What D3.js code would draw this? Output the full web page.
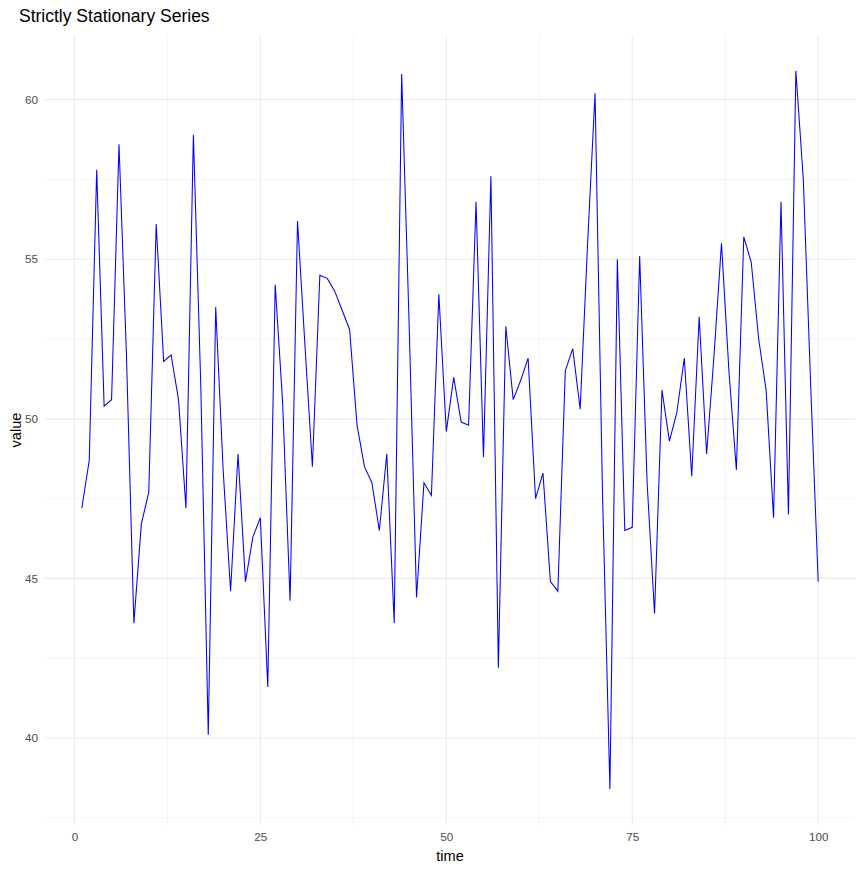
<!DOCTYPE html>
<html>
<head>
<meta charset="utf-8">
<script src="https://cdn.jsdelivr.net/npm/d3@7"></script>
<style>
  body { margin: 0; background: #fff; }
  svg text { font-family: "Liberation Sans", Arial, sans-serif; }
</style>
</head>
<body>
<svg id="chart" width="862" height="870"></svg>
<script>
// series values (time 1..100)
const values = [
  47.2, 48.7, 57.8, 50.4, 50.6, 58.6, 52.0, 43.6, 46.7, 47.7,
  56.1, 51.8, 52.0, 50.6, 47.2, 58.9, 51.0, 40.1, 53.5, 48.4,
  44.6, 48.9, 44.9, 46.3, 46.9, 41.6, 54.2, 50.5, 44.3, 56.2,
  52.3, 48.5, 54.5, 54.4, 54.0, 53.4, 52.8, 49.8, 48.5, 48.0,
  46.5, 48.9, 43.6, 60.8, 53.0, 44.4, 48.0, 47.6, 53.9, 49.6,
  51.3, 49.9, 49.8, 56.8, 48.8, 57.6, 42.2, 52.9, 50.6, 51.2,
  51.9, 47.5, 48.3, 44.9, 44.6, 51.5, 52.2, 50.3, 55.5, 60.2,
  47.7, 38.4, 55.0, 46.5, 46.6, 55.1, 48.0, 43.9, 50.9, 49.3,
  50.2, 51.9, 48.2, 53.2, 48.9, 52.0, 55.5, 51.5, 48.4, 55.7,
  54.9, 52.5, 50.9, 46.9, 56.8, 47.0, 60.9, 57.5, 51.0, 44.9
];
const times = values.map((v, i) => i + 1);

const xTicks = [0, 25, 50, 75, 100];
const xMinor = [12.5, 37.5, 62.5, 87.5];
const yTicks = [40, 45, 50, 55, 60];
const yMinor = [37.5, 42.5, 47.5, 52.5, 57.5];

const titleText = "Strictly Stationary Series";
const xLabel = "time";
const yLabel = "value";

const svg = d3.select("#chart");
const margin = { top: 35, right: 7, bottom: 45, left: 45 };
const width = 862, height = 870;

// ggplot style 5% expansion
function expand(ext) {
  const pad = (ext[1] - ext[0]) * 0.05;
  return [ext[0] - pad, ext[1] + pad];
}

const x = d3.scaleLinear()
  .domain(expand(d3.extent(times)))
  .range([margin.left, width - margin.right]);
const y = d3.scaleLinear()
  .domain(expand(d3.extent(values)))
  .range([height - margin.bottom, margin.top]);

const grid = svg.append("g");
const [x0, x1] = x.range();
const [y0, y1] = y.range();

// minor grid
grid.selectAll(".vminor").data(xMinor).enter().append("line")
  .attr("x1", d => x(d)).attr("x2", d => x(d))
  .attr("y1", y0).attr("y2", y1)
  .attr("stroke", "#ebebeb").attr("stroke-width", 0.55);
grid.selectAll(".hminor").data(yMinor.filter(d => d > y.domain()[0])).enter().append("line")
  .attr("x1", x0).attr("x2", x1)
  .attr("y1", d => y(d)).attr("y2", d => y(d))
  .attr("stroke", "#ebebeb").attr("stroke-width", 0.55);

// major grid
grid.selectAll(".vmajor").data(xTicks).enter().append("line")
  .attr("x1", d => x(d)).attr("x2", d => x(d))
  .attr("y1", y0).attr("y2", y1)
  .attr("stroke", "#ebebeb").attr("stroke-width", 1.1);
grid.selectAll(".hmajor").data(yTicks).enter().append("line")
  .attr("x1", x0).attr("x2", x1)
  .attr("y1", d => y(d)).attr("y2", d => y(d))
  .attr("stroke", "#ebebeb").attr("stroke-width", 1.1);

// the series
const line = d3.line()
  .x((d, i) => x(times[i]))
  .y(d => y(d));

svg.append("path")
  .datum(values)
  .attr("fill", "none")
  .attr("stroke", "blue")
  .attr("stroke-width", 1.05)
  .attr("d", line);

// axes (no ticks or domain line, like theme_minimal)
const xAxis = svg.append("g")
  .attr("transform", `translate(0,${y0})`)
  .call(d3.axisBottom(x).tickValues(xTicks).tickSize(0).tickPadding(8));
const yAxis = svg.append("g")
  .attr("transform", `translate(${x0},0)`)
  .call(d3.axisLeft(y).tickValues(yTicks).tickSize(0).tickPadding(7));

[xAxis, yAxis].forEach(a => {
  a.select(".domain").remove();
  a.selectAll("text")
    .attr("fill", "#4d4d4d")
    .style("font-size", "11.7px")
    .style("font-family", "'Liberation Sans', Arial, sans-serif");
});

// titles
svg.append("text")
  .attr("x", (x0 + x1) / 2)
  .attr("y", 861)
  .attr("text-anchor", "middle")
  .attr("fill", "#000")
  .style("font-size", "14.6px")
  .text(xLabel);

svg.append("text")
  .attr("transform", `translate(21,${(y0 + y1) / 2}) rotate(-90)`)
  .attr("text-anchor", "middle")
  .attr("fill", "#000")
  .style("font-size", "14.6px")
  .text(yLabel);

svg.append("text")
  .attr("x", 19)
  .attr("y", 22)
  .attr("fill", "#000")
  .style("font-size", "17.5px")
  .text(titleText);
</script>
</body>
</html>
